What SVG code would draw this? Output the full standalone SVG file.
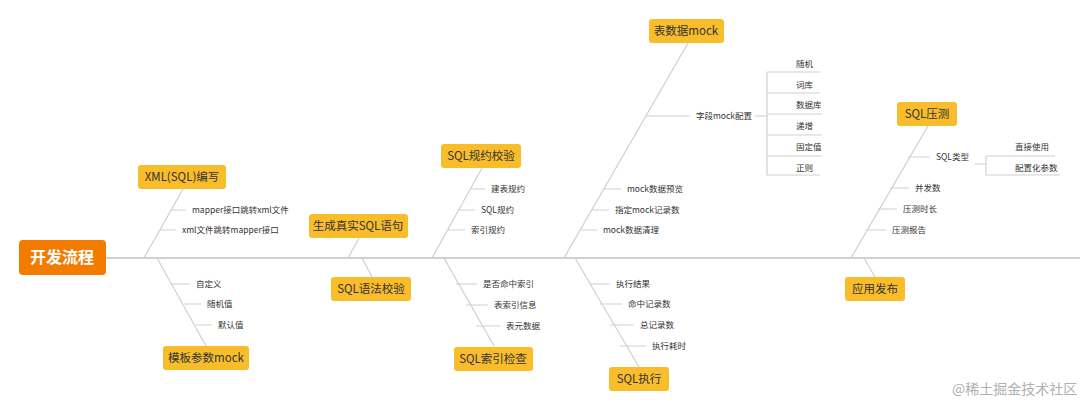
<svg xmlns="http://www.w3.org/2000/svg" width="1080" height="411" viewBox="0 0 1080 411">
<style>
.n rect{fill:#F9BD2B;stroke:none}
.n text{font-family:"Noto Sans CJK SC","Liberation Sans",sans-serif;font-size:11.5px;fill:#333;text-anchor:middle}
.c{stroke:#d0d0d0;stroke-width:1.2;fill:none}
.t{font-family:"Noto Sans CJK SC","Liberation Sans",sans-serif;font-size:8.5px;fill:#333}
</style>
<rect width="1080" height="411" fill="#fff"/>
<g id="connectors" class="c">
<path d="M106 258H1080" stroke-width="2"/>
<path d="M144 258L183 189M171 210H186M160 230H176"/>
<path d="M157 258L206 346M172 284H190M184 304H201M196 325H212"/>
<path d="M348 258L359 238M362 258L372 277"/>
<path d="M432 258L482 168M470 189H485M458 210H475M447 230H465"/>
<path d="M444 258L494 346M456 284H477M466 305H488M476 326H500"/>
<path d="M564 258L688 43M646 116H690M604 189H621M592 210H609M580 230H597"/>
<path d="M755 116H767M767 72V175M767 72H820M767 93H820M767 114H822M767 135H822M767 156H822M767 175H820"/>
<path d="M575 258L639 367M590 284H610M600 304H622M610 325H634M620 346H646"/>
<path d="M851 258L928 126M908 157H930M890 188H909M878 209H897M866 230H886"/>
<path d="M975 164H986M986 156V175M986 156H1055M986 175H1060"/>
<path d="M864 258L875 277"/>
</g>
<g id="root"><rect x="19" y="240" width="87" height="35" rx="4" fill="#F27B00"/><text x="62" y="263" font-family="Noto Sans CJK SC,sans-serif" font-size="16" font-weight="bold" fill="#fff" text-anchor="middle">开发流程</text></g>
<g id="n1" class="n"><rect x="138" y="165" width="88" height="24" rx="3"/><text x="182" y="181">XML(SQL)编写</text></g>
<g id="n2" class="n"><rect x="163" y="346" width="86" height="24" rx="3"/><text x="206" y="362">模板参数mock</text></g>
<g id="n3" class="n"><rect x="309" y="214" width="99" height="24" rx="3"/><text x="358" y="230">生成真实SQL语句</text></g>
<g id="n4" class="n"><rect x="331" y="277" width="80" height="24" rx="3"/><text x="371" y="293">SQL语法校验</text></g>
<g id="n5" class="n"><rect x="441" y="144" width="80" height="24" rx="3"/><text x="481" y="160">SQL规约校验</text></g>
<g id="n6" class="n"><rect x="454" y="347" width="79" height="24" rx="3"/><text x="493" y="363">SQL索引检查</text></g>
<g id="n7" class="n"><rect x="649" y="19" width="75" height="24" rx="3"/><text x="686" y="35">表数据mock</text></g>
<g id="n8" class="n"><rect x="609" y="367" width="60" height="24" rx="3"/><text x="639" y="383">SQL执行</text></g>
<g id="n9" class="n"><rect x="897" y="102" width="60" height="24" rx="3"/><text x="927" y="118">SQL压测</text></g>
<g id="n10" class="n"><rect x="845" y="277" width="60" height="24" rx="3"/><text x="875" y="293">应用发布</text></g>
<g id="labels" class="t">
<text x="192" y="213">mapper接口跳转xml文件</text>
<text x="182" y="233">xml文件跳转mapper接口</text>
<text x="196" y="287">自定义</text>
<text x="207" y="307">随机值</text>
<text x="218" y="328">默认值</text>
<text x="491" y="192">建表规约</text>
<text x="481" y="213">SQL规约</text>
<text x="471" y="233">索引规约</text>
<text x="483" y="287">是否命中索引</text>
<text x="494" y="308">表索引信息</text>
<text x="506" y="329">表元数据</text>
<text x="696" y="119">字段mock配置</text>
<text x="627" y="192">mock数据预览</text>
<text x="615" y="213">指定mock记录数</text>
<text x="603" y="233">mock数据清理</text>
<text x="796" y="67">随机</text>
<text x="796" y="88">词库</text>
<text x="796" y="108">数据库</text>
<text x="796" y="129">递增</text>
<text x="796" y="150">固定值</text>
<text x="796" y="171">正则</text>
<text x="616" y="287">执行结果</text>
<text x="628" y="307">命中记录数</text>
<text x="640" y="328">总记录数</text>
<text x="652" y="349">执行耗时</text>
<text x="936" y="160">SQL类型</text>
<text x="915" y="191">并发数</text>
<text x="903" y="212">压测时长</text>
<text x="892" y="233">压测报告</text>
<text x="1015" y="150">直接使用</text>
<text x="1015" y="171">配置化参数</text>
</g>
<text x="952" y="394" font-family="Noto Sans CJK SC,sans-serif" font-size="14" fill="#b0b0b0">@稀土掘金技术社区</text>
</svg>
